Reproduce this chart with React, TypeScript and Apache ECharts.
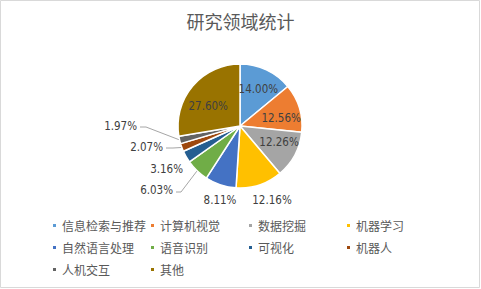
import React, { useEffect, useRef } from "react";
import * as echarts from "echarts";

const categories = ["信息检索与推荐", "计算机视觉", "数据挖掘", "机器学习", "自然语言处理", "语音识别", "可视化", "机器人", "人机交互", "其他"];
const values = [14.0, 12.56, 12.26, 12.16, 8.11, 6.03, 3.16, 2.07, 1.97, 27.6];
const colors = ["#5B9BD5", "#ED7D31", "#A5A5A5", "#FFC000", "#4472C4", "#70AD47", "#255E91", "#9E480E", "#636363", "#997300"];
const insideLabels = ["信息检索与推荐", "计算机视觉", "数据挖掘", "其他"];

// Small nudges for inside labels (Excel "best fit" placement)
const insideShift: Record<string, [number, number]> = {
  "信息检索与推荐": [0, 2],
  "计算机视觉": [0, 5],
  "数据挖掘": [1, -4],
  "其他": [1, 8],
};

// Placement of the outside percentage labels (text anchor + optional leader elbow/end)
const outsideLayout: Record<string, any> = {
  "人机交互": { x: 137, y: 126, align: "right", end: [140, 127], elbow: [146, 127] },
  "机器人": { x: 163, y: 147, align: "right", end: [166, 148], elbow: [173, 148] },
  "可视化": { x: 183, y: 169, align: "right" },
  "语音识别": { x: 173, y: 190, align: "right", end: [176, 192], elbow: [181, 192] },
  "自然语言处理": { x: 220, y: 200, align: "center" },
  "机器学习": { x: 272, y: 200, align: "center" },
};

export default function App() {
  const ref = useRef<HTMLDivElement>(null);
  useEffect(() => {
    const chart = echarts.init(ref.current!, undefined, { renderer: "svg" });
    const visual = categories.map((name, i) => ({ name, value: values[i], itemStyle: { color: colors[i] } }));
    const labelData = categories.map((name, i) => {
      const inside = insideLabels.includes(name);
      const spec = outsideLayout[name];
      const leader = !!(spec && spec.end);
      return {
        name,
        value: values[i],
        label: inside ? { position: "inside" } : { position: "outside" },
        labelLine: { show: leader, length: 10, length2: 5 },
      };
    });
    chart.setOption({
      animation: false,
      title: {
        text: "研究领域统计",
        left: "center",
        top: 7,
        textStyle: { fontSize: 18, fontWeight: "normal", color: "#595959", fontFamily: "Noto Sans CJK SC" },
      },
      legend: {
        left: 46,
        top: 211,
        width: 410,
        itemWidth: 5,
        itemHeight: 5,
        itemGap: 3,
        icon: "rect",
        data: categories,
        textStyle: { fontSize: 12, color: "#595959", width: 84, lineHeight: 19, fontFamily: "Noto Sans CJK SC" },
      },
      graphic: [
        { type: "rect", shape: { x: 0.5, y: 0.5, width: 479, height: 287 }, style: { fill: "none", stroke: "#d9d9d9", lineWidth: 1 }, silent: true },
      ],
      series: [
        {
          type: "pie",
          center: [240, 126],
          radius: [0, 62],
          startAngle: 90,
          clockwise: true,
          data: visual,
          label: { show: false },
          labelLine: { show: false },
          itemStyle: { borderColor: "#fff", borderWidth: 1.5 },
          silent: true,
        },
        {
          type: "pie",
          center: [240, 126],
          radius: [18, 62],
          startAngle: 90,
          clockwise: true,
          avoidLabelOverlap: false,
          data: labelData,
          itemStyle: { color: "rgba(0,0,0,0)" },
          label: {
            show: true,
            formatter: (p: any) => p.value.toFixed(2) + "%",
            fontSize: 11.5,
            color: "#404040",
            fontFamily: "Liberation Sans Narrow, DejaVu Sans Condensed, Roboto",
          },
          labelLine: { lineStyle: { color: "#A6A6A6", width: 1 }, smooth: false },
          labelLayout: (p: any) => {
            const name = categories[p.dataIndex];
            const shift = insideShift[name];
            if (shift) return { dx: shift[0], dy: shift[1] };
            const spec = outsideLayout[name];
            if (!spec) return {};
            const res: any = { x: spec.x, y: spec.y, align: spec.align, verticalAlign: "middle" };
            if (spec.end && p.labelLinePoints) {
              res.labelLinePoints = [p.labelLinePoints[0], spec.elbow, spec.end];
            }
            return res;
          },
          silent: true,
        },
      ],
    });
    return () => chart.dispose();
  }, []);
  return <div ref={ref} style={{ position: "absolute", left: 0, top: 0, width: 481, height: 289 }} />;
}
